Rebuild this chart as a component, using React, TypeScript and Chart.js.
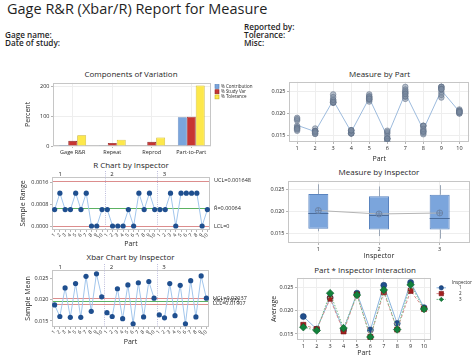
import React, { useEffect, useRef } from "react";
import { Chart, registerables } from "chart.js";

Chart.register(...registerables);

const FONT = '"Open Sans", "Noto Sans", "DejaVu Sans", sans-serif';
const INK = "#262626";

// ---------------- data ----------------
const componentLabels = ["Gage R&R", "Repeat", "Reprod", "Part-to-Part"];
const componentSeries = ["% Contribution", "% Study Var", "% Tolerance"];
const pctContribution = [3.0, 1.0, 2.0, 97.0];
const pctStudyVar = [17.4, 10.0, 14.0, 98.5];
const pctTolerance = [36, 21, 29, 204];

const partLabels = ["1", "2", "3", "4", "5", "6", "7", "8", "9", "10"];
const inspectorLabels = ["1", "2", "3"];

// three trials per part, per inspector
const inspector1Trials = [
  [0.01845, 0.01905, 0.01875],
  [0.01545, 0.01605, 0.01665],
  [0.02245, 0.02305, 0.02275],
  [0.01555, 0.01615, 0.01585],
  [0.02315, 0.02375, 0.02435],
  [0.01555, 0.01585, 0.01615],
  [0.02485, 0.02605, 0.02545],
  [0.01725, 0.01725, 0.01725],
  [0.02605, 0.02605, 0.02605],
  [0.02035, 0.02095, 0.02065],
];
const inspector2Trials = [
  [0.01665, 0.01725, 0.01695],
  [0.01605, 0.01605, 0.01605],
  [0.02255, 0.02255, 0.02255],
  [0.01555, 0.01555, 0.01555],
  [0.02315, 0.02375, 0.02345],
  [0.01435, 0.01435, 0.01435],
  [0.02335, 0.02455, 0.02395],
  [0.01565, 0.01625, 0.01595],
  [0.02365, 0.02485, 0.02425],
  [0.02005, 0.02065, 0.02035],
];
const inspector3Trials = [
  [0.01615, 0.01675, 0.01645],
  [0.01545, 0.01605, 0.01575],
  [0.02315, 0.02435, 0.02375],
  [0.01625, 0.01625, 0.01625],
  [0.02275, 0.02395, 0.02335],
  [0.01375, 0.01495, 0.01435],
  [0.02385, 0.02505, 0.02445],
  [0.01535, 0.01655, 0.01595],
  [0.02555, 0.02555, 0.02555],
  [0.02005, 0.02065, 0.02035],
];

const rChartLimits = [0.001648, 0.00064, 0];
const rChartLimitLabels = ["UCL=0.001648", "R\u0304=0.00064", "LCL=0"];
const xbarChartLimits = [0.02037, 0.01972, 0.01907];
const xbarChartLimitLabels = ["UCL=0.02037", "X\u0304=0.01972", "LCL=0.01907"];

const boxMin = [0.01545, 0.01435, 0.01375];
const boxQ1 = [0.01605, 0.01583, 0.01583];
const boxMedian = [0.01963, 0.01906, 0.0184];
const boxQ3 = [0.02395, 0.02344, 0.0238];
const boxMax = [0.0262, 0.0257, 0.026];
const boxMean = [0.0202, 0.0194, 0.01963];

// ---------------- derived ----------------
const allTrials = [inspector1Trials, inspector2Trials, inspector3Trials];
const subgroupMeans = allTrials.map((t) => t.map((tr) => tr.reduce((a, b) => a + b, 0) / tr.length));
const subgroupRanges = allTrials.map((t) => t.map((tr) => Math.max(...tr) - Math.min(...tr)));
const partMeans = partLabels.map((_, p) => {
  const vals = allTrials.flatMap((t) => t[p]);
  return vals.reduce((a, b) => a + b, 0) / vals.length;
});
const subgroupLabels = inspectorLabels.flatMap(() => partLabels);

// ---------------- layout helpers ----------------
type Frame = { l: number; t: number; r: number; b: number };
type Cv = { x: number; y: number; w: number; h: number };

function fit(frame: Frame, cv: Cv) {
  return {
    padding: { left: 0, top: frame.t - cv.y, right: cv.x + cv.w - frame.r, bottom: 0 },
    yW: frame.l - cv.x,
    xH: cv.y + cv.h - frame.b,
  };
}

const tickFont = { family: FONT, size: 5.5 };
const axisTitleFont = { family: FONT, size: 7 };
const GRID = "#eeeeee";

function yAxis(yW: number, min: number, max: number, ticks: number[], decimals: number, title: string | null, gridOn: boolean) {
  return {
    type: "linear",
    min,
    max,
    afterBuildTicks: (s: any) => {
      s.ticks = ticks.map((v) => ({ value: v }));
    },
    afterFit: (s: any) => {
      s.width = yW;
    },
    ticks: { font: tickFont, color: INK, padding: 1.5, callback: (v: number) => Number(v).toFixed(decimals) },
    grid: { color: GRID, drawOnChartArea: gridOn, tickLength: 2, tickColor: "#b5b5b5" },
    border: { display: false },
    title: title
      ? { display: true, text: title, font: axisTitleFont, color: INK, padding: 0 }
      : { display: false },
  };
}

const framePlugin = {
  id: "frame",
  beforeDatasetsDraw(chart: any) {
    const { ctx, chartArea: a } = chart;
    ctx.save();
    ctx.strokeStyle = "#c6c6c6";
    ctx.lineWidth = 1;
    ctx.strokeRect(Math.round(a.left) + 0.5, Math.round(a.top) + 0.5, Math.round(a.right - a.left) - 1, Math.round(a.bottom - a.top) - 1);
    ctx.restore();
  },
};

const baseOptions = (padding: any) => ({
  animation: false,
  responsive: false,
  devicePixelRatio: 1,
  layout: { padding },
  plugins: { legend: { display: false }, tooltip: { enabled: false }, title: { display: false } },
});

// ---------------- chart builders ----------------
const CV_COMP: Cv = { x: 24, y: 78, w: 234, h: 82 };
const FR_COMP: Frame = { l: 53, t: 80, r: 211, b: 146 };

function buildComponents() {
  const f = fit(FR_COMP, CV_COMP);
  const colors = [
    ["#7aa5dc", "#5680bb"],
    ["#c73532", "#8f2322"],
    ["#fde84b", "#c9b21f"],
  ];
  const series = [pctContribution, pctStudyVar, pctTolerance];
  const legend = {
    id: "compLegend",
    afterDraw(chart: any) {
      const { ctx, chartArea: a } = chart;
      ctx.save();
      ctx.font = `4.5px ${FONT}`;
      ctx.textBaseline = "middle";
      chart.data.datasets.forEach((ds: any, i: number) => {
        const x = a.right + 4;
        const y = a.top + 3.7 + i * 5.2;
        ctx.fillStyle = ds.backgroundColor;
        ctx.fillRect(x, y - 2, 4, 4);
        ctx.strokeStyle = ds.borderColor;
        ctx.lineWidth = 0.6;
        ctx.strokeRect(x, y - 2, 4, 4);
        ctx.fillStyle = INK;
        ctx.fillText(ds.label, x + 6, y);
      });
      ctx.restore();
    },
  };
  return {
    type: "bar",
    data: {
      labels: componentLabels,
      datasets: series.map((d, i) => ({
        label: componentSeries[i],
        data: d,
        backgroundColor: colors[i][0],
        borderColor: colors[i][1],
        borderWidth: 0.8,
        categoryPercentage: 0.68,
        barPercentage: 1,
      })),
    },
    options: {
      ...baseOptions(f.padding),
      scales: {
        x: {
          afterFit: (s: any) => {
            s.height = f.xH;
          },
          ticks: { font: tickFont, color: INK, padding: 1, autoSkip: false, maxRotation: 0 },
          grid: { color: GRID, offset: false, tickLength: 2, tickColor: "#b5b5b5" },
          border: { display: false },
        },
        y: yAxis(f.yW, 0, 213, [0, 100, 200], 0, "Percent", true),
      },
    },
    plugins: [framePlugin, legend],
  };
}

const CV_PART: Cv = { x: 262, y: 77, w: 212, h: 86 };
const FR_PART: Frame = { l: 289, t: 79, r: 470, b: 142 };

function buildByPart() {
  const f = fit(FR_PART, CV_PART);
  const pts = allTrials.flatMap((t) => t.flatMap((tr, p) => tr.map((v) => ({ x: p + 1, y: v }))));
  return {
    type: "scatter",
    data: {
      datasets: [
        {
          type: "line",
          data: partMeans.map((m, p) => ({ x: p + 1, y: m })),
          borderColor: "#9dbbdd",
          borderWidth: 1,
          pointRadius: 0,
          order: 1,
        },
        {
          data: pts,
          backgroundColor: "rgba(122,138,160,0.55)",
          borderColor: "rgba(96,112,134,0.75)",
          borderWidth: 0.7,
          pointRadius: 2.8,
          order: 0,
        },
      ],
    },
    options: {
      ...baseOptions(f.padding),
      scales: {
        x: {
          type: "linear",
          min: 0.55,
          max: 10.55,
          afterBuildTicks: (s: any) => {
            s.ticks = partLabels.map((_, i) => ({ value: i + 1 }));
          },
          afterFit: (s: any) => {
            s.height = f.xH;
          },
          ticks: { font: tickFont, color: INK, padding: 1, callback: (v: number) => String(v) },
          grid: { color: GRID, tickLength: 2, tickColor: "#b5b5b5" },
          border: { display: false },
          title: { display: true, text: "Part", font: axisTitleFont, color: INK, padding: 0 },
        },
        y: yAxis(f.yW, 0.0136, 0.0272, [0.015, 0.02, 0.025], 3, null, true),
      },
    },
    plugins: [framePlugin],
  };
}

function controlPlugin(limits: number[], labels: string[]) {
  const colors = ["#dc8d8d", "#5cb262", "#dc8d8d"];
  return {
    id: "control",
    beforeDatasetsDraw(chart: any) {
      const { ctx, chartArea: a, scales } = chart;
      const x = scales.x;
      const y = scales.y;
      ctx.save();
      ctx.lineWidth = 1;
      ctx.strokeStyle = "#bdbddc";
      ctx.setLineDash([1, 1.2]);
      [10, 20].forEach((k) => {
        const px = Math.round((x.getPixelForValue(k - 1) + x.getPixelForValue(k)) / 2) + 0.5;
        ctx.beginPath();
        ctx.moveTo(px, a.top - 6);
        ctx.lineTo(px, a.bottom);
        ctx.stroke();
      });
      ctx.setLineDash([]);
      limits.forEach((v, i) => {
        const py = Math.round(y.getPixelForValue(v)) + 0.5;
        ctx.strokeStyle = colors[i];
        ctx.beginPath();
        ctx.moveTo(a.left + 1, py);
        ctx.lineTo(a.right - 1, py);
        ctx.stroke();
      });
      ctx.restore();
    },
    afterDraw(chart: any) {
      const { ctx, chartArea: a, scales } = chart;
      const x = scales.x;
      const y = scales.y;
      ctx.save();
      ctx.fillStyle = INK;
      ctx.font = `5.5px ${FONT}`;
      ctx.textAlign = "left";
      ctx.textBaseline = "middle";
      limits.forEach((v, i) => ctx.fillText(labels[i], a.right + 4, y.getPixelForValue(v)));
      ctx.font = `6px ${FONT}`;
      ctx.textBaseline = "alphabetic";
      inspectorLabels.forEach((lab, k) => {
        const start = k === 0 ? a.left + 1 : (x.getPixelForValue(k * 10 - 1) + x.getPixelForValue(k * 10)) / 2;
        ctx.fillText(lab, start + 5.5, a.top - 1.5);
      });
      ctx.restore();
    },
  };
}

function buildControl(frame: Frame, cv: Cv, values: number[][], yMin: number, yMax: number, ticks: number[], dec: number, title: string, limits: number[], labels: string[]) {
  const f = fit(frame, cv);
  return {
    type: "line",
    data: {
      labels: subgroupLabels,
      datasets: values.map((vals, k) => ({
        data: subgroupLabels.map((_, i) => (Math.floor(i / 10) === k ? vals[i % 10] : null)),
        borderColor: "#a2c6ec",
        borderWidth: 1,
        pointRadius: 2.6,
        pointBackgroundColor: "#1f4f8f",
        pointBorderColor: "#1f4f8f",
        pointBorderWidth: 0,
        spanGaps: false,
      })),
    },
    options: {
      ...baseOptions(f.padding),
      scales: {
        x: {
          type: "category",
          offset: true,
          afterFit: (s: any) => {
            s.height = f.xH;
          },
          ticks: { font: { family: FONT, size: 5 }, color: INK, padding: 0, autoSkip: false, minRotation: 45, maxRotation: 45 },
          grid: { drawOnChartArea: false, tickLength: 2, tickColor: "#b5b5b5", offset: false },
          border: { display: false },
          title: { display: true, text: "Part", font: axisTitleFont, color: INK, padding: 0 },
        },
        y: yAxis(f.yW, yMin, yMax, ticks, dec, title, false),
      },
    },
    plugins: [framePlugin, controlPlugin(limits, labels)],
  };
}

const CV_R: Cv = { x: 19, y: 168, w: 243, h: 80 };
const FR_R: Frame = { l: 52, t: 177, r: 210, b: 230 };
const CV_X: Cv = { x: 24, y: 262, w: 238, h: 84 };
const FR_X: Frame = { l: 52, t: 270, r: 209, b: 327 };

function buildR() {
  return buildControl(FR_R, CV_R, subgroupRanges, -0.000146, 0.00179, [0, 0.0008, 0.0016], 4, "Sample Range", rChartLimits, rChartLimitLabels);
}
function buildXbar() {
  return buildControl(FR_X, CV_X, subgroupMeans, 0.01359, 0.02694, [0.015, 0.02, 0.025], 3, "Sample Mean", xbarChartLimits, xbarChartLimitLabels);
}

const CV_BOX: Cv = { x: 262, y: 176, w: 212, h: 84 };
const FR_BOX: Frame = { l: 288, t: 178, r: 470, b: 243 };

function buildBox() {
  const f = fit(FR_BOX, CV_BOX);
  const boxPlugin = {
    id: "boxParts",
    beforeDatasetsDraw(chart: any) {
      const { ctx, scales } = chart;
      ctx.save();
      ctx.strokeStyle = "#9aa6b6";
      ctx.lineWidth = 1;
      inspectorLabels.forEach((_, i) => {
        const px = Math.round(scales.x.getPixelForValue(i)) + 0.5;
        ctx.beginPath();
        ctx.moveTo(px, scales.y.getPixelForValue(boxMax[i]));
        ctx.lineTo(px, scales.y.getPixelForValue(boxQ3[i]));
        ctx.moveTo(px, scales.y.getPixelForValue(boxQ1[i]));
        ctx.lineTo(px, scales.y.getPixelForValue(boxMin[i]));
        ctx.stroke();
      });
      ctx.restore();
    },
    afterDatasetsDraw(chart: any) {
      const { ctx, scales } = chart;
      const bars = chart.getDatasetMeta(1).data;
      ctx.save();
      inspectorLabels.forEach((_, i) => {
        const px = scales.x.getPixelForValue(i);
        const half = bars[i] ? bars[i].width / 2 : 10;
        const my = Math.round(scales.y.getPixelForValue(boxMedian[i])) + 0.5;
        ctx.strokeStyle = "#4b6d9c";
        ctx.lineWidth = 1;
        ctx.beginPath();
        ctx.moveTo(px - half, my);
        ctx.lineTo(px + half, my);
        ctx.stroke();
        const cy = scales.y.getPixelForValue(boxMean[i]);
        ctx.strokeStyle = "#6b84a8";
        ctx.beginPath();
        ctx.arc(px, cy, 3, 0, Math.PI * 2);
        ctx.moveTo(px - 3, cy);
        ctx.lineTo(px + 3, cy);
        ctx.moveTo(px, cy - 3);
        ctx.lineTo(px, cy + 3);
        ctx.stroke();
      });
      ctx.restore();
    },
  };
  return {
    type: "bar",
    data: {
      labels: inspectorLabels,
      datasets: [
        {
          type: "line",
          data: boxMean,
          borderColor: "#b4b4b4",
          borderWidth: 1,
          pointRadius: 0,
          order: 0,
        },
        {
          data: inspectorLabels.map((_, i) => [boxQ1[i], boxQ3[i]]),
          backgroundColor: "#7ba5dc",
          borderColor: "#5a84bf",
          borderWidth: 1,
          borderSkipped: false,
          categoryPercentage: 1,
          barPercentage: 0.33,
          order: 1,
        },
      ],
    },
    options: {
      ...baseOptions(f.padding),
      scales: {
        x: {
          type: "category",
          offset: true,
          afterFit: (s: any) => {
            s.height = f.xH;
          },
          ticks: { font: tickFont, color: INK, padding: 1, maxRotation: 0 },
          grid: { color: GRID, offset: false, tickLength: 2, tickColor: "#b5b5b5" },
          border: { display: false },
          title: { display: true, text: "Inspector", font: axisTitleFont, color: INK, padding: 0 },
        },
        y: yAxis(f.yW, 0.01276, 0.027, [0.015, 0.02, 0.025], 3, null, true),
      },
    },
    plugins: [framePlugin, boxPlugin],
  };
}

const CV_INT: Cv = { x: 270, y: 273, w: 204, h: 84 };
const FR_INT: Frame = { l: 297, t: 275, r: 431, b: 340 };

const interStyles = [
  { line: "#8ab4df", fill: "#1f4e8c", edge: "#173d6e", shape: "circle", r: 3, dash: [] as number[] },
  { line: "#d98f8f", fill: "#a3201f", edge: "#7a1414", shape: "rect", r: 3.6, dash: [3, 2] },
  { line: "#74bd88", fill: "#12813b", edge: "#0b5e2a", shape: "rectRot", r: 3.8, dash: [1.5, 1.5] },
];

function drawMarker(ctx: any, shape: string, x: number, y: number, r: number) {
  ctx.beginPath();
  if (shape === "circle") ctx.arc(x, y, r, 0, Math.PI * 2);
  else if (shape === "rect") ctx.rect(x - r, y - r, 2 * r, 2 * r);
  else {
    ctx.moveTo(x, y - r);
    ctx.lineTo(x + r, y);
    ctx.lineTo(x, y + r);
    ctx.lineTo(x - r, y);
    ctx.closePath();
  }
  ctx.fill();
  ctx.stroke();
}

function buildInteraction() {
  const f = fit(FR_INT, CV_INT);
  const legend = {
    id: "intLegend",
    afterDraw(chart: any) {
      const { ctx, chartArea: a } = chart;
      ctx.save();
      ctx.font = `4.5px ${FONT}`;
      ctx.textBaseline = "middle";
      ctx.fillStyle = INK;
      ctx.fillText("Inspector", a.right + 21, a.top + 5);
      inspectorLabels.forEach((lab, k) => {
        const st = interStyles[k];
        const y = a.top + 10 + k * 5.8;
        ctx.strokeStyle = st.line;
        ctx.lineWidth = 1;
        ctx.setLineDash(st.dash);
        ctx.beginPath();
        ctx.moveTo(a.right + 5.5, y);
        ctx.lineTo(a.right + 15, y);
        ctx.stroke();
        ctx.setLineDash([]);
        ctx.fillStyle = st.fill;
        ctx.strokeStyle = st.edge;
        ctx.lineWidth = 0.6;
        drawMarker(ctx, st.shape, a.right + 10.3, y, 2.2);
        ctx.fillStyle = INK;
        ctx.fillText(lab, a.right + 28, y);
      });
      ctx.restore();
    },
  };
  return {
    type: "line",
    data: {
      datasets: inspectorLabels.map((lab, k) => ({
        label: lab,
        data: partLabels.map((_, p) => ({ x: p + 1, y: subgroupMeans[k][p] })),
        borderColor: interStyles[k].line,
        borderWidth: 1,
        borderDash: interStyles[k].dash,
        pointStyle: interStyles[k].shape,
        pointRadius: interStyles[k].r,
        pointBackgroundColor: interStyles[k].fill,
        pointBorderColor: interStyles[k].edge,
        pointBorderWidth: 0.6,
        order: 2 - k,
      })),
    },
    options: {
      ...baseOptions(f.padding),
      scales: {
        x: {
          type: "linear",
          min: 0.53,
          max: 10.52,
          afterBuildTicks: (s: any) => {
            s.ticks = partLabels.map((_, i) => ({ value: i + 1 }));
          },
          afterFit: (s: any) => {
            s.height = f.xH;
          },
          ticks: { font: tickFont, color: INK, padding: 1, callback: (v: number) => String(v) },
          grid: { color: GRID, tickLength: 2, tickColor: "#b5b5b5" },
          border: { display: false },
          title: { display: true, text: "Part", font: axisTitleFont, color: INK, padding: 0 },
        },
        y: yAxis(f.yW, 0.01371, 0.02705, [0.015, 0.02, 0.025], 3, "Average", true),
      },
    },
    plugins: [framePlugin, legend],
  };
}

// ---------------- components ----------------
function ChartBox({ cv, build }: { cv: Cv; build: () => any }) {
  const ref = useRef<HTMLCanvasElement | null>(null);
  useEffect(() => {
    if (!ref.current) return;
    const chart = new Chart(ref.current, build());
    return () => chart.destroy();
  }, []);
  return (
    <canvas
      ref={ref}
      width={cv.w}
      height={cv.h}
      style={{ position: "absolute", left: cv.x, top: cv.y, width: cv.w, height: cv.h, display: "block" }}
    />
  );
}

function Label({ x, y, size, weight = 400, center = false, children }: any) {
  const style: any = {
    position: "absolute",
    top: y - 0.888 * size,
    left: x,
    fontSize: size,
    lineHeight: 1,
    fontFamily: FONT,
    fontWeight: weight,
    color: "#1f1f1f",
    whiteSpace: "nowrap",
  };
  if (center) style.transform = "translateX(-50%)";
  return <div style={style}>{children}</div>;
}

export default function App() {
  return (
    <div style={{ position: "fixed", left: 0, top: 0, width: 474, height: 360, background: "#ffffff", overflow: "hidden" }}>
      <Label x={7} y={15} size={14.5}>Gage R&amp;R (Xbar/R) Report for Measure</Label>
      <Label x={5} y={38.3} size={8.2} weight={600}>Gage name:</Label>
      <Label x={5} y={46.7} size={8.2} weight={600}>Date of study:</Label>
      <Label x={244} y={30} size={8.2} weight={600}>Reported by:</Label>
      <Label x={244} y={38.3} size={8.2} weight={600}>Tolerance:</Label>
      <Label x={244} y={46.7} size={8.2} weight={600}>Misc:</Label>

      <Label x={131} y={77} size={8} center>Components of Variation</Label>
      <Label x={379.5} y={77} size={8} center>Measure by Part</Label>
      <Label x={131} y={168.3} size={8} center>R Chart by Inspector</Label>
      <Label x={379} y={175.3} size={8} center>Measure by Inspector</Label>
      <Label x={130.5} y={260} size={8} center>Xbar Chart by Inspector</Label>
      <Label x={365} y={272.7} size={8} center>Part * Inspector Interaction</Label>

      <ChartBox cv={CV_COMP} build={buildComponents} />
      <ChartBox cv={CV_PART} build={buildByPart} />
      <ChartBox cv={CV_R} build={buildR} />
      <ChartBox cv={CV_BOX} build={buildBox} />
      <ChartBox cv={CV_X} build={buildXbar} />
      <ChartBox cv={CV_INT} build={buildInteraction} />
    </div>
  );
}
